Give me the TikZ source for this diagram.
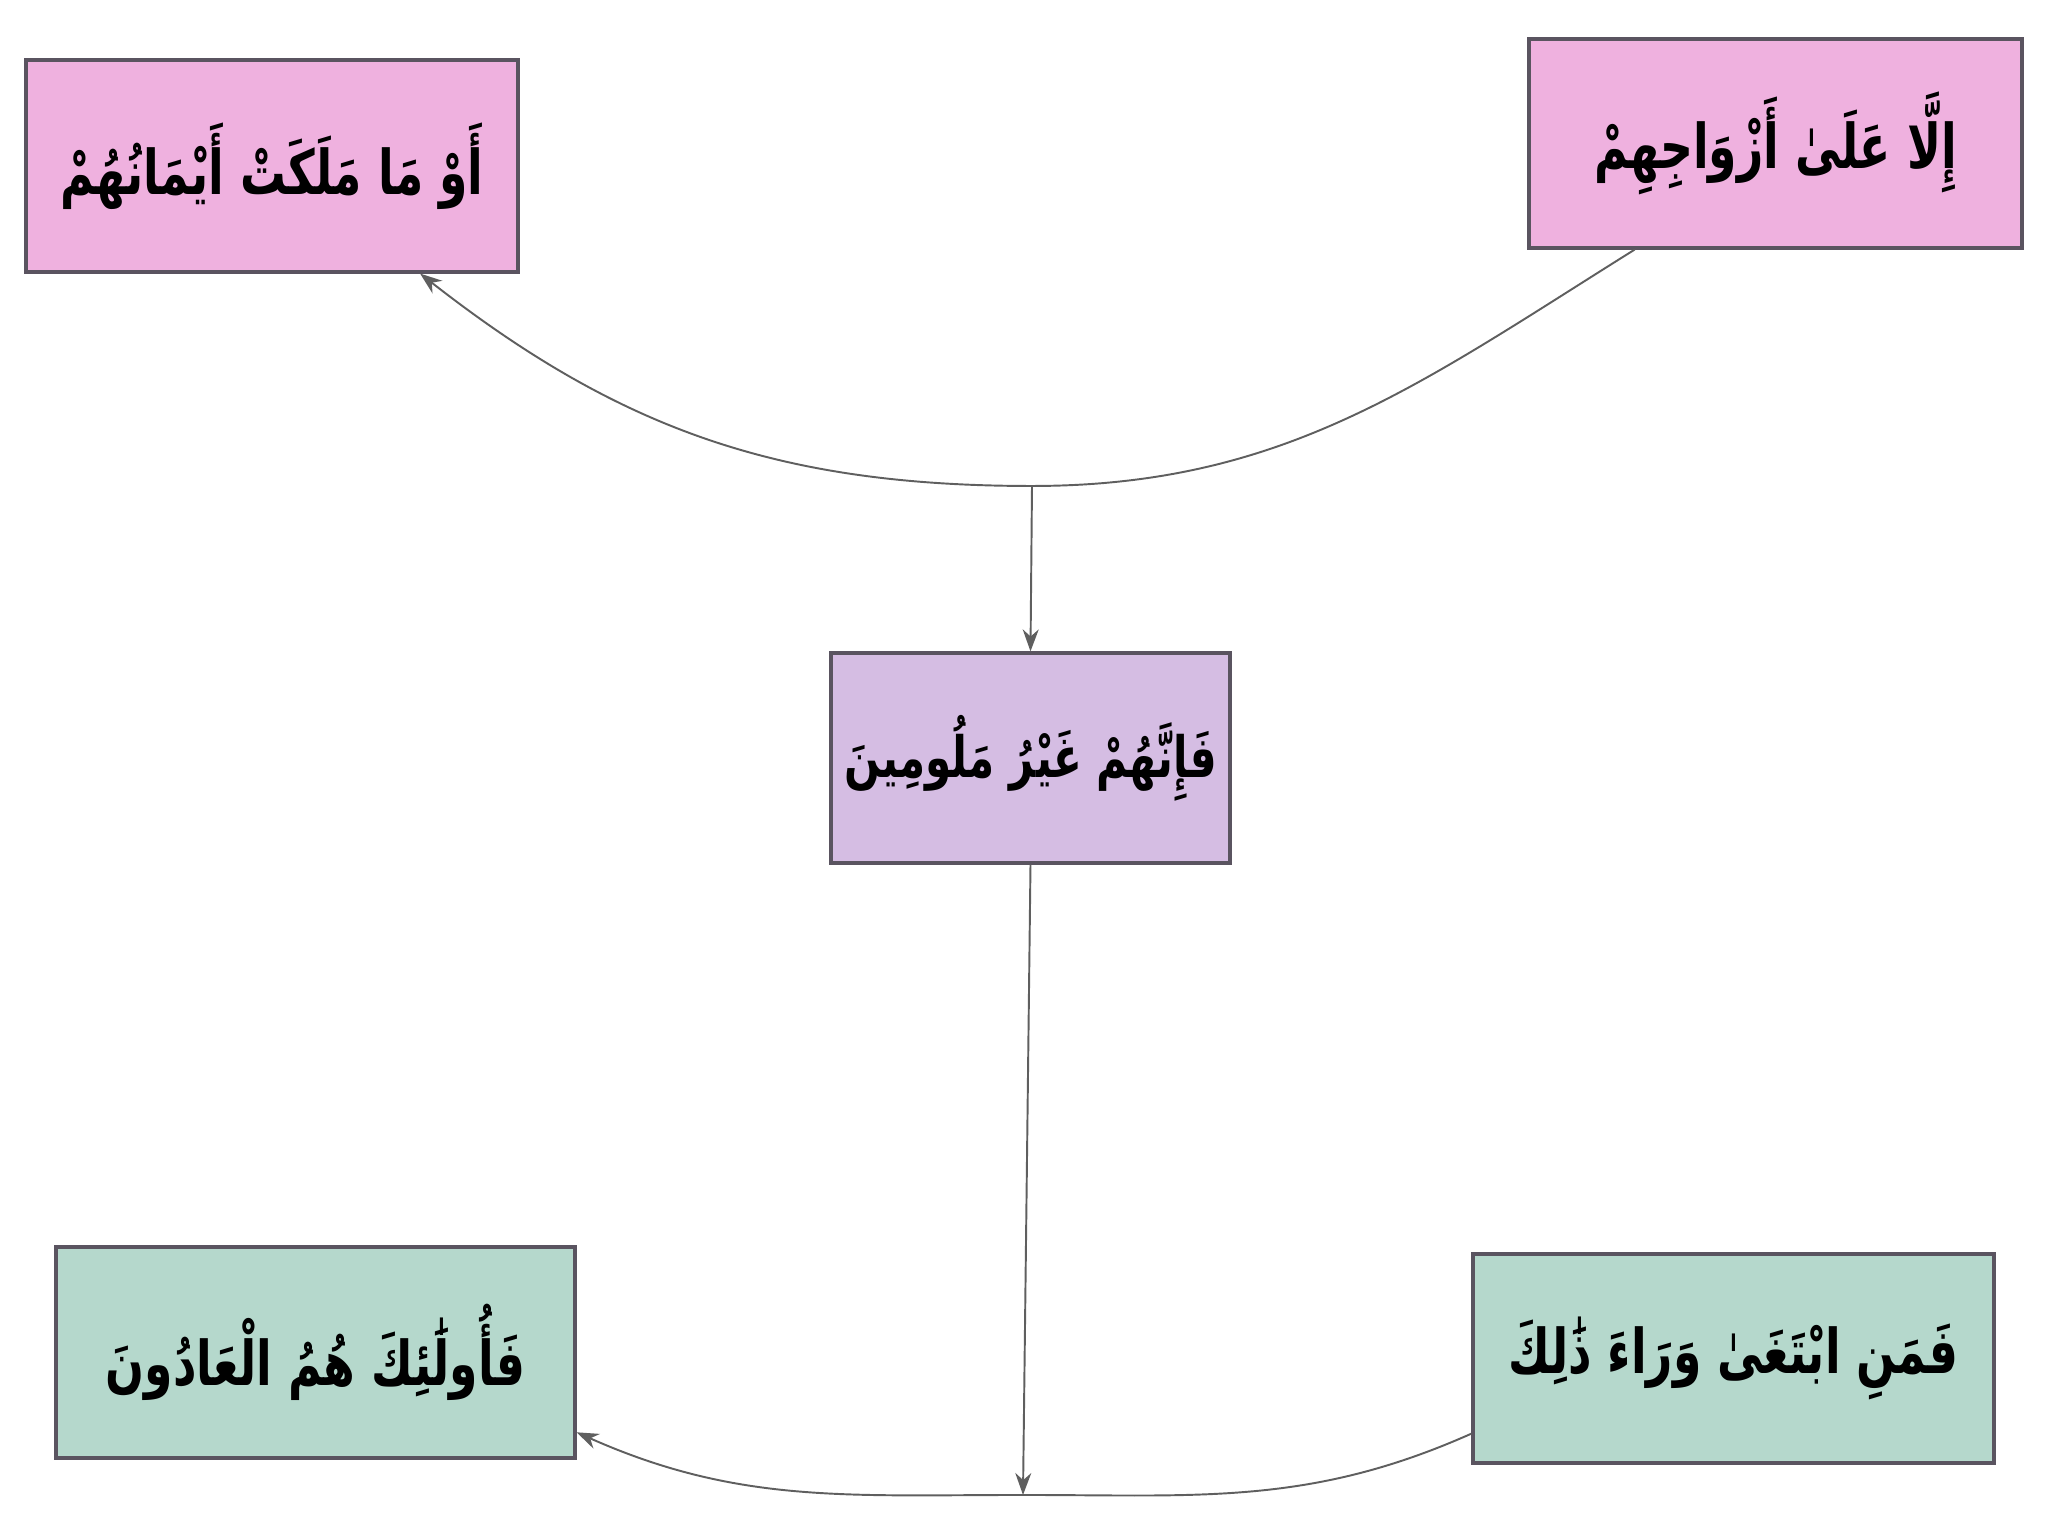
\documentclass[tikz,border=0pt]{standalone}
\usepackage{fontspec}
\usepackage{graphicx}
\newfontfamily\arabicfont[Script=Arabic]{DejaVu Sans}
\TeXXeTstate=1
\usetikzlibrary{arrows.meta}
\definecolor{pinkbox}{RGB}{239,177,223}
\definecolor{lilacbox}{RGB}{213,189,227}
\definecolor{tealbox}{RGB}{181,216,204}
\definecolor{edgegray}{RGB}{90,84,96}
\definecolor{linkgray}{RGB}{95,95,95}
\newcommand{\ayah}[1]{\scalebox{1}[1.35]{\beginR #1\endR}}
\begin{document}
\begin{tikzpicture}[
  verse/.style={draw=edgegray,line width=0.9pt,inner sep=0pt,font=\arabicfont\bfseries\fontsize{13}{16}\selectfont},
  link/.style={linkgray,line width=0.55pt,-{Stealth[length=2.2mm,width=1.6mm]}}]
\useasboundingbox (0,0) rectangle (20.48,15.36);
\node[verse,fill=pinkbox,minimum width=4.93cm,minimum height=2.09cm] (illa) at (17.755,13.925) {\ayah{إِلَّا عَلَىٰ أَزْوَاجِهِمْ}};
\node[verse,fill=pinkbox,minimum width=4.92cm,minimum height=2.12cm] (ow) at (2.72,13.70) {\ayah{أَوْ مَا مَلَكَتْ أَيْمَانُهُمْ}};
\node[verse,fill=lilacbox,minimum width=3.99cm,minimum height=2.10cm,font=\arabicfont\bfseries\fontsize{12}{15}\selectfont] (mid) at (10.305,7.78) {\ayah{فَإِنَّهُمْ غَيْرُ مَلُومِينَ}};
\node[verse,fill=tealbox,minimum width=5.21cm,minimum height=2.09cm] (seek) at (17.335,1.775) {\ayah{فَمَنِ ابْتَغَىٰ وَرَاءَ ذَٰلِكَ}};
\node[verse,fill=tealbox,minimum width=5.19cm,minimum height=2.11cm] (tres) at (3.155,1.835) {\ayah{فَأُولَٰئِكَ هُمُ الْعَادُونَ}};
\coordinate (topjoin) at (10.32,10.50);
\coordinate (botjoin) at (10.23,0.41);
\draw[link] (illa.217) to[out=212,in=0] (topjoin) to[out=180,in=-38] (ow.324);
\draw[link] (topjoin) -- (mid.north);
\draw[link] (mid.south) -- (botjoin);
\draw[link] (seek.196) to[out=204,in=0] (botjoin) to[out=180,in=-24] (tres.343);
\end{tikzpicture}
\end{document}
